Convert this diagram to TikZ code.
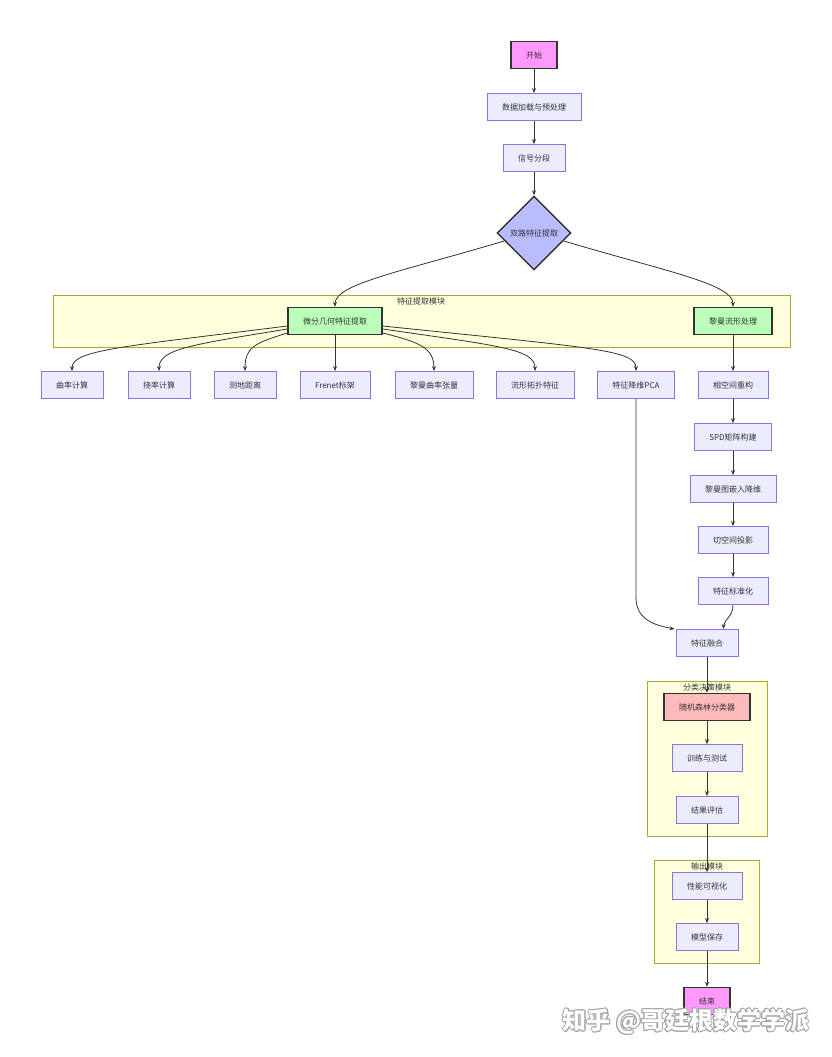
\documentclass[tikz,border=0pt]{standalone}
\usepackage{fontspec}
\setmainfont{Noto Sans CJK SC}
\usepackage{tikz}
\usepackage{contour}
\usetikzlibrary{shapes.geometric,arrows.meta,calc}

\definecolor{boxfill}{HTML}{ECECFF}
\definecolor{boxline}{HTML}{9370DB}
\definecolor{grpfill}{HTML}{FFFFDE}
\definecolor{grpline}{HTML}{AAAA33}
\definecolor{inkgray}{HTML}{333333}
\definecolor{pinkfill}{HTML}{FF99FF}
\definecolor{greenfill}{HTML}{BBFFBB}
\definecolor{bluefill}{HTML}{BBBBFF}
\definecolor{redfill}{HTML}{FFBBBB}

\begin{document}
\begin{tikzpicture}[x=1pt,y=-1pt,
	txt/.style={font=\fontsize{8}{10}\selectfont,text=inkgray},
	box/.style={txt,draw=boxline,fill=boxfill,line width=0.8pt,minimum height=27pt,inner xsep=15pt,inner ysep=0pt},
	hot/.style={box,draw=inkgray,line width=1.4pt},
	grp/.style={draw=grpline,fill=grpfill,line width=0.8pt},
	arr/.style={draw=inkgray,line width=0.8pt,-{Stealth[length=5pt,width=4pt]}}]
		\useasboundingbox (0,0) rectangle (831,1057);
		
		%groups
		\draw[grp] (53,295) rectangle (790,347);
		\node[txt] (tfeat) at (421,301) {特征提取模块};
		\draw[grp] (647,681) rectangle (767,836);
		\node[txt] (tcls) at (707,687) {分类决策模块};
		\draw[grp] (654,860) rectangle (759,963);
		\node[txt] (tout) at (707,866) {输出模块};
		
		%main column
		\node[hot,fill=pinkfill] (start) at (534,55) {开始};
		\node[box] (load) at (534,107) {数据加载与预处理};
		\node[box] (seg) at (534,158) {信号分段};
		\node[txt,diamond,aspect=1,draw=inkgray,fill=bluefill,line width=1.4pt,minimum width=74pt,minimum height=74pt,inner sep=0pt] (dual) at (534,233) {双路特征提取};
		
		\node[hot,fill=greenfill] (diff) at (335,321) {微分几何特征提取};
		\node[hot,fill=greenfill] (riem) at (733,321) {黎曼流形处理};
		
		%row of features
		\node[box] (curv) at (72,385) {曲率计算};
		\node[box] (tors) at (159,385) {挠率计算};
		\node[box] (geod) at (245,385) {测地距离};
		\node[box] (fren) at (335,385) {Frenet标架};
		\node[box] (rcurv) at (434,385) {黎曼曲率张量};
		\node[box] (topo) at (535,385) {流形拓扑特征};
		\node[box] (pca) at (636,385) {特征降维PCA};
		
		%riemann column
		\node[box] (phase) at (733,385) {相空间重构};
		\node[box] (spd) at (733,437) {SPD矩阵构建};
		\node[box] (embed) at (733,489) {黎曼图嵌入降维};
		\node[box] (tang) at (733,540) {切空间投影};
		\node[box] (norm) at (733,591) {特征标准化};
		\node[box] (fus) at (707,643) {特征融合};
		
		%classifier + output
		\node[hot,fill=redfill] (rf) at (707,707) {随机森林分类器};
		\node[box] (train) at (707,758) {训练与测试};
		\node[box] (eval) at (707,810) {结果评估};
		\node[box] (vis) at (707,886) {性能可视化};
		\node[box] (save) at (707,937) {模型保存};
		\node[hot,fill=pinkfill] (stop) at (707,1001) {结束};
		
		%arrows:
		\draw[arr] (start) -- (load);
		\draw[arr] (load) -- (seg);
		\draw[arr] (seg) -- (dual);
		\draw[arr] (dual.195) .. controls (400,272) and (335,284) .. (diff.north);
		\draw[arr] (dual.345) .. controls (668,272) and (733,284) .. (riem.north);
		
		\draw[arr] ([yshift=-5pt]diff.west) .. controls (120,347) and (72,350) .. (curv.north);
		\draw[arr] ([yshift=-8pt]diff.west) .. controls (190,345) and (159,349) .. (tors.north);
		\draw[arr] ([yshift=-12pt]diff.west) .. controls (255,343) and (245,347) .. (geod.north);
		\draw[arr] (diff) -- (fren);
		\draw[arr] ([yshift=-12pt]diff.east) .. controls (418,342) and (434,347) .. (rcurv.north);
		\draw[arr] ([yshift=-8pt]diff.east) .. controls (500,346) and (535,349) .. (topo.north);
		\draw[arr] ([yshift=-5pt]diff.east) .. controls (595,348) and (636,350) .. (pca.north);
		
		\draw[arr] (riem) -- (phase);
		\draw[arr] (phase) -- (spd);
		\draw[arr] (spd) -- (embed);
		\draw[arr] (embed) -- (tang);
		\draw[arr] (tang) -- (norm);
		\coordinate (bend) at (636,598);
		\draw[arr] (pca.south) -- (bend) .. controls (636,622) and (660,626) .. ([xshift=-1pt]fus.north west);
		\draw[arr] (norm.south) .. controls (733,617) and (724,619) .. ([xshift=-15pt]fus.north east);
		
		\draw[arr] (fus) -- (rf);
		\draw[arr] (rf) -- (train);
		\draw[arr] (train) -- (eval);
		\draw[arr] (eval) -- (vis);
		\draw[arr] (vis) -- (save);
		\draw[arr] (save) -- (stop);
		
		%watermark
		\node[font=\fontsize{24}{26}\selectfont\bfseries,text=white] (mark) at (686,1022) {\contourlength{0.8pt}\contour{gray!70}{知乎 @哥廷根数学学派}};
\end{tikzpicture}
\end{document}
